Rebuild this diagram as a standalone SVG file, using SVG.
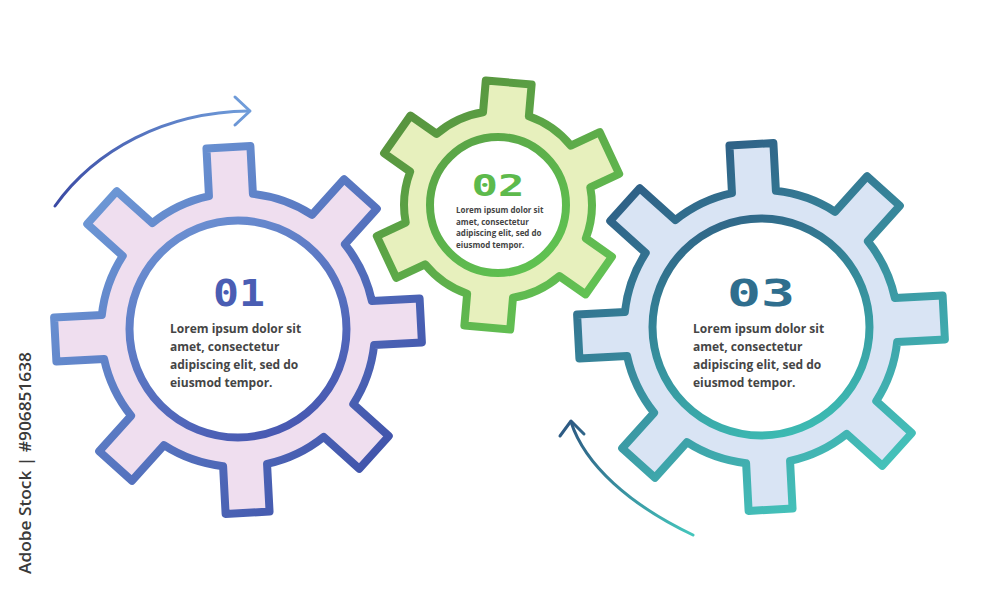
<svg xmlns="http://www.w3.org/2000/svg" width="1000" height="589" viewBox="0 0 1000 589">
  <defs>
    <linearGradient id="g1s" gradientUnits="userSpaceOnUse" x1="-170" y1="-170" x2="170" y2="170">
      <stop offset="0" stop-color="#729fda"/>
      <stop offset="1" stop-color="#3c4ca6"/>
    </linearGradient>
    <linearGradient id="g1r" gradientUnits="userSpaceOnUse" x1="-60" y1="-110" x2="60" y2="110">
      <stop offset="0" stop-color="#6c91d2"/>
      <stop offset="1" stop-color="#4656b0"/>
    </linearGradient>
    <linearGradient id="g2s" gradientUnits="userSpaceOnUse" x1="-110" y1="-110" x2="110" y2="110">
      <stop offset="0" stop-color="#578f3c"/>
      <stop offset="1" stop-color="#63c756"/>
    </linearGradient>
    <linearGradient id="g2r" gradientUnits="userSpaceOnUse" x1="-50" y1="-70" x2="50" y2="70">
      <stop offset="0" stop-color="#5aa346"/>
      <stop offset="1" stop-color="#60c452"/>
    </linearGradient>
    <linearGradient id="g3s" gradientUnits="userSpaceOnUse" x1="-90" y1="-185" x2="90" y2="185">
      <stop offset="0" stop-color="#2d5a83"/>
      <stop offset="1" stop-color="#46c8bd"/>
    </linearGradient>
    <linearGradient id="g3r" gradientUnits="userSpaceOnUse" x1="-40" y1="-110" x2="40" y2="110">
      <stop offset="0" stop-color="#306688"/>
      <stop offset="1" stop-color="#3dbcb3"/>
    </linearGradient>
    <linearGradient id="a1g" gradientUnits="userSpaceOnUse" x1="55" y1="206" x2="250" y2="111">
      <stop offset="0" stop-color="#3a4aa4"/>
      <stop offset="1" stop-color="#709dda"/>
    </linearGradient>
    <linearGradient id="a3g" gradientUnits="userSpaceOnUse" x1="571" y1="421" x2="693" y2="535">
      <stop offset="0" stop-color="#2d5a83"/>
      <stop offset="1" stop-color="#44c6bc"/>
    </linearGradient>
    <path id="gear8" d="M -22,-135.2 L -22,-183 L 22,-183 L 22,-135.2 A 137 137 0 0 1 80.0,-111.2 L 113.8,-145.0 L 145.0,-113.8 L 111.2,-80.0 A 137 137 0 0 1 135.2,-22 L 183,-22 L 183,22 L 135.2,22 A 137 137 0 0 1 111.2,80.0 L 145.0,113.8 L 113.8,145.0 L 80.0,111.2 A 137 137 0 0 1 22,135.2 L 22,183 L -22,183 L -22,135.2 A 137 137 0 0 1 -80.0,111.2 L -113.8,145.0 L -145.0,113.8 L -111.2,80.0 A 137 137 0 0 1 -135.2,22 L -183,22 L -183,-22 L -135.2,-22 A 137 137 0 0 1 -111.2,-80.0 L -145.0,-113.8 L -113.8,-145.0 L -80.0,-111.2 A 137 137 0 0 1 -22,-135.2 Z"/>
    <path id="gear6" d="M -23,-91.1 L -23,-123 L 23,-123 L 23,-91.1 A 94 94 0 0 1 67.4,-65.5 L 95.0,-81.4 L 118.0,-41.6 L 90.4,-25.6 A 94 94 0 0 1 90.4,25.6 L 118.0,41.6 L 95.0,81.4 L 67.4,65.5 A 94 94 0 0 1 23,91.1 L 23,123 L -23,123 L -23,91.1 A 94 94 0 0 1 -67.4,65.5 L -95.0,81.4 L -118.0,41.6 L -90.4,25.6 A 94 94 0 0 1 -90.4,-25.6 L -118.0,-41.6 L -95.0,-81.4 L -67.4,-65.5 A 94 94 0 0 1 -23,-91.1 Z"/>
  </defs>
  <style>
    .gear { stroke-width: 8; stroke-linejoin: round; }
    .ring { fill: #ffffff; stroke-width: 8; }
    .num { font-family: "DejaVu Sans Mono", "Liberation Mono", monospace; font-weight: bold; text-anchor: middle; }
    .body { font-family: "Open Sans", "Liberation Sans", sans-serif; font-weight: 700; fill: #454545; }
    .arrow { fill: none; stroke-width: 3; stroke-linecap: round; stroke-linejoin: round; }
    .mark { font-family: "Open Sans", "Liberation Sans", sans-serif; font-weight: 600; fill: #3a3a3a; }
  </style>
  <rect width="1000" height="589" fill="#ffffff"/>

  <g id="connectors">
    <path class="arrow" stroke="url(#a1g)" d="M 55,206 C 95,150 165,112 249,111"/>
    <polyline class="arrow" stroke="url(#a1g)" points="235,97 250,111 235,125"/>
    <path class="arrow" stroke="url(#a3g)" d="M 693,535 C 630,505 585,465 571,422"/>
    <polyline class="arrow" stroke="url(#a3g)" points="560,436 571,421 584,434"/>
  </g>

  <g id="gear1">
    <g transform="translate(238,330) rotate(-3)">
      <use href="#gear8" class="gear" fill="#efdeef" stroke="url(#g1s)"/>
    </g>
    <g transform="translate(238,329)">
      <circle class="ring" r="108.5" stroke="url(#g1r)"/>
    </g>
    <text class="num" x="239" y="306" font-size="38" fill="#4a5db3" textLength="52" lengthAdjust="spacingAndGlyphs">01</text>
    <text class="body" font-size="12">
      <tspan x="170" y="333">Lorem ipsum dolor sit</tspan>
      <tspan x="170" y="351">amet, consectetur</tspan>
      <tspan x="170" y="369">adipiscing elit, sed do</tspan>
      <tspan x="170" y="387">eiusmod tempor.</tspan>
    </text>
  </g>

  <g id="gear3">
    <g transform="translate(761,327) rotate(-3)">
      <use href="#gear8" class="gear" fill="#d9e4f4" stroke="url(#g3s)"/>
    </g>
    <g transform="translate(761,327)">
      <circle class="ring" r="108.5" stroke="url(#g3r)"/>
    </g>
    <text class="num" x="761" y="306" font-size="38" fill="#2f6e8e" textLength="68" lengthAdjust="spacingAndGlyphs">03</text>
    <text class="body" font-size="12">
      <tspan x="693" y="333">Lorem ipsum dolor sit</tspan>
      <tspan x="693" y="351">amet, consectetur</tspan>
      <tspan x="693" y="369">adipiscing elit, sed do</tspan>
      <tspan x="693" y="387">eiusmod tempor.</tspan>
    </text>
  </g>

  <g id="gear2">
    <g transform="translate(498,205) rotate(5)">
      <use href="#gear6" class="gear" fill="#e7f0bd" stroke="url(#g2s)"/>
    </g>
    <g transform="translate(498,205)">
      <circle class="ring" r="68" stroke="url(#g2r)"/>
    </g>
    <text class="num" x="498" y="196" font-size="31" fill="#5dba4c" textLength="53" lengthAdjust="spacingAndGlyphs">02</text>
    <text class="body" font-size="8">
      <tspan x="456" y="213">Lorem ipsum dolor sit</tspan>
      <tspan x="456" y="224.5">amet, consectetur</tspan>
      <tspan x="456" y="236">adipiscing elit, sed do</tspan>
      <tspan x="456" y="247.5">eiusmod tempor.</tspan>
    </text>
  </g>

  <g id="watermark">
    <text class="mark" transform="translate(31,463) rotate(-90)" text-anchor="middle" font-size="17" textLength="222" lengthAdjust="spacingAndGlyphs">Adobe Stock | #906851638</text>
  </g>
</svg>
